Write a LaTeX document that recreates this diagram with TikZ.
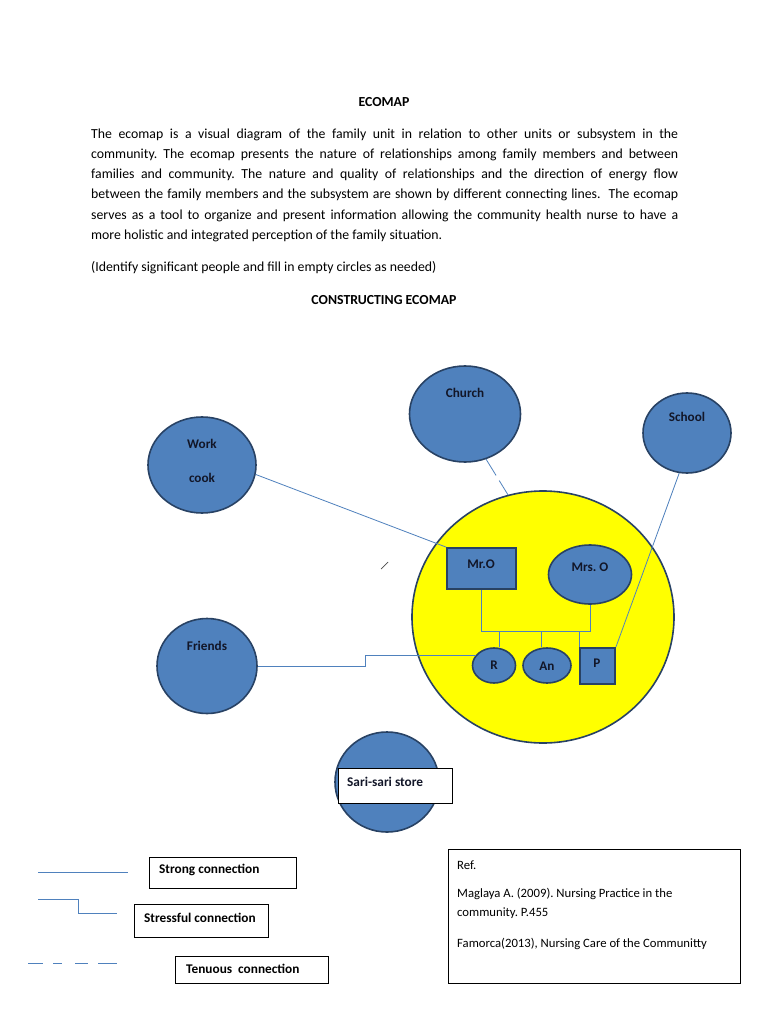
\documentclass[tikz,border=0pt]{standalone}
\usepackage{fontspec}
\setmainfont{Carlito}
\usetikzlibrary{shapes.geometric}
\definecolor{blobfill}{RGB}{79,129,189}
\definecolor{blobline}{RGB}{40,66,100}
\definecolor{conncol}{RGB}{79,129,189}
\definecolor{labcol}{RGB}{18,22,40}
\definecolor{famyel}{RGB}{255,255,0}
\tikzset{
  blob/.style={ellipse, draw=blobline, fill=blobfill, line width=1.6pt, inner sep=0pt},
  sqblob/.style={rectangle, draw=blobline, fill=blobfill, line width=1.8pt, inner sep=0pt},
  lbl/.style={text=labcol, inner sep=0pt, font=\bfseries\fontsize{13.2}{15}\selectfont},
  conn/.style={draw=conncol, line width=0.8pt},
  legbox/.style={rectangle, draw=black, line width=0.8pt, fill=white, inner sep=0pt, anchor=north west},
  legtxt/.style={inner sep=0pt, anchor=base west, font=\bfseries\fontsize{13.3}{15}\selectfont},
  reftxt/.style={inner sep=0pt, anchor=base west, font=\fontsize{12.7}{14}\selectfont},
}
\begin{document}
\frenchspacing
\begin{tikzpicture}[x=1pt,y=-1pt]
\useasboundingbox[fill=white] (0,0) rectangle (768,1024);

% heading and text
\node[inner sep=0pt, anchor=base, font=\bfseries\fontsize{13.8}{16}\selectfont] (title) at (384,106.5) {ECOMAP};
\node[inner sep=0pt, anchor=north west, text width=587pt, align=justify, font=\fontsize{13.8}{20.2}\selectfont] (para) at (91,128.5)
{The ecomap is a visual diagram of the family unit in relation to other units or subsystem in the\linebreak
community. The ecomap presents the nature of relationships among family members and between\linebreak
families and community. The nature and quality of relationships and the direction of energy flow\linebreak
between the family members and the subsystem are shown by different connecting lines.\ \ The ecomap\linebreak
serves as a tool to organize and present information allowing the community health nurse to have a\linebreak
more holistic and integrated perception of the family situation.};
\node[inner sep=0pt, anchor=base west, font=\fontsize{13.8}{16}\selectfont] (ident) at (91,271.5) {(Identify significant people and fill in empty circles as needed)};
\node[inner sep=0pt, anchor=base, font=\bfseries\fontsize{13.8}{16}\selectfont] (constr) at (384,304.5) {CONSTRUCTING ECOMAP};

% outer systems
\node[blob, minimum width=108pt, minimum height=96pt] (work) at (202,465) {};
\node[blob, minimum width=111pt, minimum height=96pt] (church) at (465,414) {};
\node[blob, minimum width=88pt, minimum height=80pt] (school) at (687,433) {};
\node[blob, minimum width=100pt, minimum height=95pt] (friends) at (207,666) {};
\node[blob, minimum width=104pt, minimum height=100pt] (sari) at (387,782) {};

% family circle
\node[ellipse, draw=blobline, fill=famyel, line width=1.6pt, inner sep=0pt, minimum width=262pt, minimum height=252pt] (family) at (543,617) {};
\node[sqblob, minimum width=69pt, minimum height=41pt] (mro) at (481.5,568.5) {};
\node[blob, minimum width=83pt, minimum height=59pt] (mrso) at (590,574.5) {};
\node[blob, minimum width=43pt, minimum height=35pt] (r) at (494,665.5) {};
\node[blob, minimum width=48pt, minimum height=35pt] (an) at (547,665.5) {};
\node[sqblob, minimum width=35pt, minimum height=36pt] (pbox) at (597.5,666) {};

% family lines
\coordinate (bar) at (0,631);
\draw[conn] (mro.south) |- (mrso.south |- bar) -- (mrso.south);
\draw[conn] ([xshift=5pt]r.north) -- ([xshift=5pt]r.north |- bar);
\draw[conn] ([xshift=-6pt]an.north) -- ([xshift=-6pt]an.north |- bar);
\draw[conn] (pbox.north west) -- (pbox.north west |- bar);

% connectors
\draw[conn] (work.-10) -- (mro.north west);
\draw[conn, dash pattern=on 19pt off 6pt] (church.-65) -- (family.106);
\draw[conn] (school.-101) -- (pbox.north east);
\draw[conn] (friends.east) -- ++(108,0) |- (r.150);

% small stray mark
\draw[draw=black!70, line width=0.7pt] (381,569) -- (388,562);

% labels
\node[lbl] (workL) at (202,444) {Work};
\node[lbl] (cookL) at (202,478) {cook};
\node[lbl] (churchL) at (465,393) {Church};
\node[lbl] (schoolL) at (687,417) {School};
\node[lbl] (friendsL) at (207,646) {Friends};
\node[lbl] (mroL) at (481,564) {Mr.O};
\node[lbl] (mrsoL) at (590,567) {Mrs. O};
\node[lbl] (rL) at (494,665) {R};
\node[lbl] (anL) at (547,666) {An};
\node[lbl] (pL) at (597,663) {P};

% sari-sari label box
\node[legbox, minimum width=114pt, minimum height=35pt] (saribox) at (338,768) {};
\node[legtxt, text=labcol] (sariL) at (347,786.5) {Sari-sari store};

% legend
\draw[conn] (38,872) -- (128,872);
\draw[conn] (38,899) -- (78,899) -- (78,913) -- (117,913);
\draw[conn] (28,963) -- (43,963);
\draw[conn] (53,963) -- (62,963);
\draw[conn] (75,963) -- (88,963);
\draw[conn] (98,963) -- (117,963);
\node[legbox, minimum width=147pt, minimum height=31pt] (sbox) at (149,857) {};
\node[legtxt] (sL) at (159,873.5) {Strong connection};
\node[legbox, minimum width=134pt, minimum height=33pt] (stbox) at (134,904) {};
\node[legtxt] (stL) at (144,922.5) {Stressful connection};
\node[legbox, minimum width=153pt, minimum height=27pt] (tbox) at (175,956) {};
\node[legtxt] (tL) at (186,973.5) {Tenuous\ \ connection};

% references
\node[legbox, minimum width=292pt, minimum height=134pt] (refbox) at (448,849) {};
\node[reftxt] (ref1) at (457,869) {Ref.};
\node[reftxt] (ref2) at (457,897) {Maglaya A. (2009). Nursing Practice in the};
\node[reftxt] (ref3) at (457,916) {community. P.455};
\node[reftxt] (ref4) at (457,947) {Famorca(2013), Nursing Care of the Communitty};
\end{tikzpicture}
\end{document}
